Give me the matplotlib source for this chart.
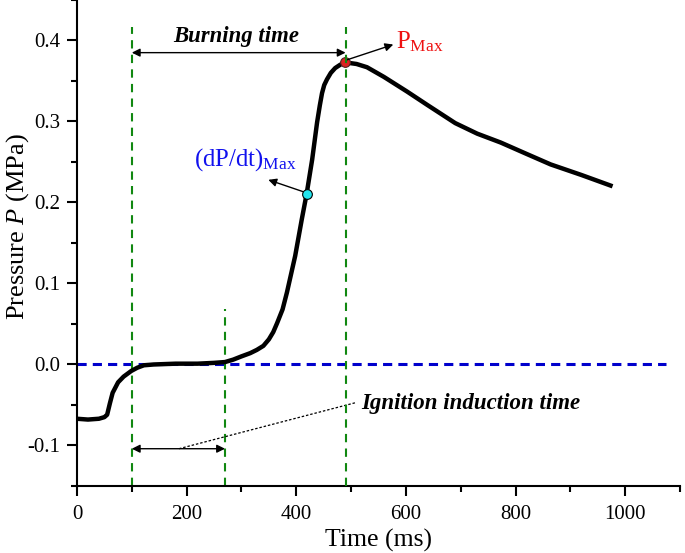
import matplotlib
matplotlib.use("Agg")
import matplotlib.pyplot as plt
from matplotlib.ticker import MultipleLocator, FormatStrFormatter

plt.rcParams['font.family'] = ['Liberation Serif', 'DejaVu Serif']
plt.rcParams['mathtext.fontset'] = 'custom'
plt.rcParams['mathtext.rm'] = 'Liberation Serif'
plt.rcParams['mathtext.it'] = 'Liberation Serif:italic'
plt.rcParams['axes.unicode_minus'] = False

# pressure curve
time_ms = [0, 20, 40, 50, 55, 60, 65, 75, 85, 99, 110, 122, 140, 180, 220, 250,
           270, 285, 300, 316, 328, 340, 350, 358, 365, 375, 383, 390, 398, 410,
           419, 429, 438, 443, 447, 451, 456, 463, 471, 480, 489, 510, 529, 560,
           602, 640, 665, 690, 730, 773, 820, 864, 920, 977]
pressure = [-0.067, -0.068, -0.067, -0.065, -0.062, -0.048, -0.035, -0.022, -0.015,
            -0.008, -0.004, -0.001, 0.000, 0.001, 0.001, 0.002, 0.003, 0.006, 0.010,
            0.014, 0.018, 0.023, 0.031, 0.040, 0.051, 0.068, 0.089, 0.110, 0.134,
            0.179, 0.211, 0.253, 0.299, 0.320, 0.335, 0.345, 0.352, 0.360, 0.366,
            0.370, 0.373, 0.371, 0.367, 0.355, 0.337, 0.320, 0.309, 0.298, 0.285,
            0.274, 0.260, 0.247, 0.234, 0.220]

t_start = 100      # start of ignition
t_ignite = 270     # end of induction
t_pmax = 490       # peak pressure
dpdt_point = (419, 0.211)
pmax_point = (489, 0.373)

fig = plt.figure(figsize=(6.85, 5.53), dpi=100)
ax = fig.add_axes([0.1124, 0.1212, 0.8803, 0.8788])

# reference lines
ax.plot([0, 1075], [0, 0], ls=(0, (3, 2)), color='#0000cc', lw=2.2, zorder=1)
ax.plot([t_start, t_start], [-0.15, 0.417], ls=(0, (4, 3)), color='#118811', lw=1.5, zorder=1)
ax.plot([t_ignite, t_ignite], [-0.15, 0.068], ls=(0, (4, 3)), color='#118811', lw=1.5, zorder=1)

ax.plot(time_ms, pressure, color='black', lw=3.2, solid_capstyle='butt',
        solid_joinstyle='round', zorder=2)

ax.plot(*dpdt_point, 'o', ms=7, mfc='#22e5ee', mec='black', mew=0.8, zorder=4)
ax.plot(*pmax_point, 'o', ms=7, mfc='#dd2222', mec='#552222', mew=0.8, zorder=3)
ax.plot([t_pmax, t_pmax], [-0.15, 0.417], ls=(0, (4, 3)), color='#118811', lw=1.5, zorder=3.5)

# burning time
ax.annotate('', xy=(t_start, 0.385), xytext=(t_pmax, 0.385),
            arrowprops=dict(arrowstyle='<|-|>', color='black', lw=1.0,
                            mutation_scale=12, shrinkA=0, shrinkB=0))
ax.text(290, 0.405, 'Burning time', fontsize=16.4, fontweight='bold', style='italic',
        ha='center', va='center')

# ignition induction time
ax.annotate('', xy=(t_start, -0.104), xytext=(t_ignite, -0.104),
            arrowprops=dict(arrowstyle='<|-|>', color='black', lw=1.0,
                            mutation_scale=12, shrinkA=0, shrinkB=0))
ax.plot([186, 509], [-0.104, -0.047], ls=(0, (2, 1.5)), color='black', lw=0.9)
ax.text(519, -0.048, 'Ignition induction time', fontsize=16.5, fontweight='bold',
        style='italic', ha='left', va='center')

# P max
ax.annotate('', xy=(577, 0.395), xytext=(492, 0.376),
            arrowprops=dict(arrowstyle='-|>', color='black', lw=1.0,
                            mutation_scale=12, shrinkA=0, shrinkB=0))
ax.text(582, 0.399, r'P$_{\mathrm{Max}}$', fontsize=17.8, color='#ee1111',
        ha='left', va='center')

# dP/dt max
ax.annotate('', xy=(349, 0.228), xytext=(414, 0.213),
            arrowprops=dict(arrowstyle='-|>', color='black', lw=1.0,
                            mutation_scale=12, shrinkA=0, shrinkB=0))
ax.text(307, 0.253, r'(dP/dt)$_{\mathrm{Max}}$', fontsize=17.8, color='#1111ee',
        ha='center', va='center')

ax.set_xlim(0, 1100)
ax.set_ylim(-0.15, 0.45)
ax.spines['top'].set_visible(False)
ax.spines['right'].set_visible(False)
ax.spines['left'].set_linewidth(1.5)
ax.spines['bottom'].set_linewidth(1.5)

ax.xaxis.set_major_locator(MultipleLocator(200))
ax.xaxis.set_minor_locator(MultipleLocator(100))
ax.yaxis.set_major_locator(MultipleLocator(0.1))
ax.yaxis.set_minor_locator(MultipleLocator(0.05))
ax.yaxis.set_major_formatter(FormatStrFormatter('%.1f'))
ax.set_yticks([-0.1, 0.0, 0.1, 0.2, 0.3, 0.4])
ax.tick_params(which='major', direction='out', length=7, width=1.5, labelsize=15, pad=5)
ax.tick_params(which='minor', direction='out', length=4, width=1.5)
ax.tick_params(axis='x', which='major', pad=7)

ax.set_xlabel('Time (ms)', fontsize=18.5, labelpad=3)
ax.set_ylabel(r'Pressure $P$ (MPa)', fontsize=19)
ax.yaxis.set_label_coords(-0.077, 0.533)

fig.savefig('out.png', dpi=100)
